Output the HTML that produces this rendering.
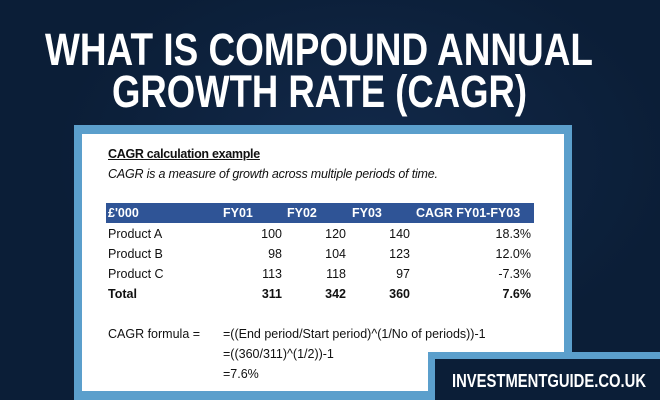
<!DOCTYPE html>
<html><head><meta charset="utf-8"><style>
body{margin:0;width:660px;height:400px;overflow:hidden;background:#0b1e37;position:relative;font-family:"Liberation Sans",sans-serif}
.a{position:absolute}
.t{font-size:12.5px;color:#111;white-space:nowrap;transform-origin:0 0}
.r{text-align:right}
</style></head><body>
<div class="a" style="left:0;top:0;width:660px;height:400px;background:radial-gradient(ellipse at 55% 40%,#12294a 0%,#0b1e37 60%)"></div>
<svg class="a" style="left:0;top:0" width="660" height="150">
<text x="45" y="65" textLength="548" lengthAdjust="spacingAndGlyphs" font-family="Liberation Sans Narrow, Liberation Sans, sans-serif" font-weight="bold" font-size="45" fill="#fff">WHAT IS COMPOUND ANNUAL</text>
<text x="112" y="107" textLength="415" lengthAdjust="spacingAndGlyphs" font-family="Liberation Sans Narrow, Liberation Sans, sans-serif" font-weight="bold" font-size="45" fill="#fff">GROWTH RATE (CAGR)</text>
</svg>
<div class="a" style="left:74px;top:125px;width:498px;height:275px;background:#5b9fcc"></div>
<div class="a" style="left:82px;top:134px;width:482px;height:257px;background:#fff"></div>
<div class="a t" style="left:108px;top:147px;font-weight:bold;text-decoration:underline;letter-spacing:-0.3px">CAGR calculation example</div>
<div class="a t" style="left:108px;top:167px;font-style:italic;letter-spacing:-0.2px">CAGR is a measure of growth across multiple periods of time.</div>
<div class="a" style="left:106px;top:203px;width:428px;height:20px;background:#2f5496"></div>
<div class="a t" style="left:108px;top:206px;color:#fff;font-weight:bold">£'000</div>
<div class="a t" style="left:223px;top:206px;color:#fff;font-weight:bold">FY01</div>
<div class="a t" style="left:287px;top:206px;color:#fff;font-weight:bold">FY02</div>
<div class="a t" style="left:352px;top:206px;color:#fff;font-weight:bold">FY03</div>
<div class="a t" style="left:416px;top:206px;color:#fff;font-weight:bold">CAGR FY01-FY03</div>
<div id="rows"></div>
<div class="a t" style="left:108px;top:327px">CAGR formula =</div>
<div class="a t" style="left:223px;top:327px">=((End period/Start period)^(1/No of periods))-1</div>
<div class="a t" style="left:223px;top:347px">=((360/311)^(1/2))-1</div>
<div class="a t" style="left:223px;top:367px">=7.6%</div>
<div class="a" style="left:428px;top:352px;width:232px;height:48px;background:#5b9fcc"></div>
<div class="a" style="left:435px;top:359px;width:225px;height:41px;background:#0b1e37"></div>
<svg class="a" style="left:0;top:0" width="660" height="400">
<text x="452" y="387" textLength="194" lengthAdjust="spacingAndGlyphs" font-family="Liberation Sans Narrow, Liberation Sans, sans-serif" font-weight="bold" font-size="18" fill="#fff">INVESTMENTGUIDE.CO.UK</text>
</svg>
<script>
const products=["Product A","Product B","Product C","Total"];
const fy01=[100,98,113,311];
const fy02=[120,104,118,342];
const fy03=[140,123,97,360];
const cagr=["18.3%","12.0%","-7.3%","7.6%"];
const host=document.getElementById('rows');
function cell(txt,right,left,top,bold,name){
  const d=document.createElement('div');
  d.className='a t';
  d.textContent=txt;
  d.style.top=top+'px';
  if(right){d.style.left=(left-60)+'px';d.style.width='60px';d.style.textAlign='right';}
  else d.style.left=left+'px';
  if(bold)d.style.fontWeight='bold';
  
  
  host.appendChild(d);
}
products.forEach((p,i)=>{
  const y=227+i*20, b=i===3;
  cell(p,false,108,y,b,'row-label');
  cell(String(fy01[i]),true,282,y,b,'cell-fy01');
  cell(String(fy02[i]),true,346,y,b,'cell-fy02');
  cell(String(fy03[i]),true,410,y,b,'cell-fy03');
  cell(cagr[i],true,531,y,b,'cell-cagr');
});
</script>
</body></html>
